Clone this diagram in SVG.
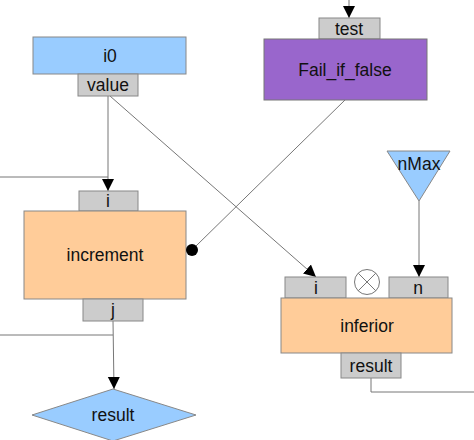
<svg xmlns="http://www.w3.org/2000/svg" width="474" height="440" viewBox="0 0 474 440">
<defs>
<marker id="arr" markerWidth="12" markerHeight="14" refX="12" refY="7" orient="auto" markerUnits="userSpaceOnUse">
<path d="M0,1 L12,7 L0,13 Z" fill="#000"/>
</marker>
<style>
text{font-family:"Liberation Sans",Arial,sans-serif;fill:#111;text-anchor:middle;dominant-baseline:central}
.lbl{font-size:17.5px}
.prt{font-size:17.5px}
.port{fill:#cccccc;stroke:#888;stroke-width:1}
.op{fill:#ffcc99;stroke:#888;stroke-width:1}
.inp{fill:#99ccff;stroke:#888;stroke-width:1}
.c{fill:none;stroke:#777;stroke-width:1}
</style>
</defs>
<rect width="474" height="440" fill="#fff"/>
<g id="connectors">
<path class="c" d="M349,0 L349,18" marker-end="url(#arr)"/>
<path class="c" d="M108,96 L108,191" marker-end="url(#arr)"/>
<path class="c" d="M0,177 L108,177"/>
<path class="c" d="M110,96 L316,277" marker-end="url(#arr)"/>
<path class="c" d="M345,100 L196,246"/>
<path class="c" d="M419,201 L419,277" marker-end="url(#arr)"/>
<path class="c" d="M113,321 L114,389" marker-end="url(#arr)"/>
<path class="c" d="M0,335 L113,335"/>
<path class="c" d="M371,378 L371,392 L474,392"/>
</g>
<g id="i0">
<rect class="inp" x="33" y="37" width="153" height="37"/>
<text class="lbl" x="110" y="56">i0</text>
<rect class="port" x="78" y="74" width="60" height="22"/>
<text class="prt" x="108" y="85">value</text>
</g>
<g id="fail_if_false">
<rect class="port" x="319" y="18" width="61" height="21"/>
<text class="prt" x="349" y="29">test</text>
<rect x="264" y="39" width="163" height="61" fill="#9966cc" stroke="#777"/>
<text class="lbl" x="345" y="70">Fail_if_false</text>
</g>
<g id="increment">
<rect class="port" x="79" y="191" width="59" height="20"/>
<text class="prt" x="108" y="201">i</text>
<rect class="op" x="24" y="211" width="162" height="88"/>
<text class="lbl" x="105" y="255">increment</text>
<rect class="port" x="83" y="299" width="60" height="22"/>
<text class="prt" x="113" y="310">j</text>
<circle cx="192" cy="250" r="6" fill="#000"/>
</g>
<g id="nMax">
<path class="inp" d="M387,151 L450,151 L419,201 Z"/>
<text class="lbl" x="419" y="164">nMax</text>
</g>
<g id="inferior">
<rect class="port" x="285" y="277" width="61" height="21"/>
<text class="prt" x="316" y="288">i</text>
<rect class="port" x="389" y="277" width="59" height="21"/>
<text class="prt" x="418" y="288">n</text>
<circle cx="367" cy="282" r="12.5" fill="#fff" stroke="#777"/>
<path d="M358.2,273.2 L375.8,290.8 M375.8,273.2 L358.2,290.8" stroke="#777" fill="none"/>
<rect class="op" x="281" y="298" width="171" height="55"/>
<text class="lbl" x="367" y="326">inferior</text>
<rect class="port" x="341" y="353" width="60" height="25"/>
<text class="prt" x="371" y="366">result</text>
</g>
<g id="result">
<path class="inp" d="M113,389 L196,415 L113,441 L32,415 Z"/>
<text class="lbl" x="113" y="415">result</text>
</g>
</svg>
